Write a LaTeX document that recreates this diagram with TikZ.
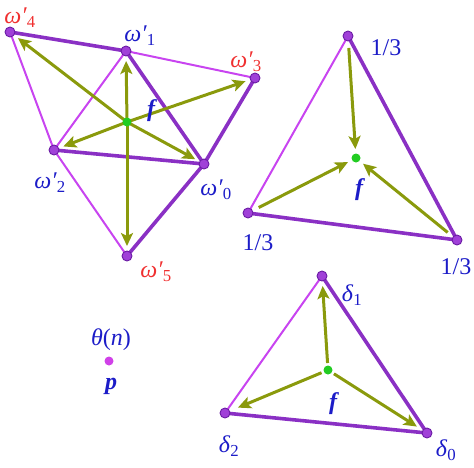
\documentclass[tikz,border=0pt]{standalone}
\usepackage{fontspec}
\setmainfont{Liberation Serif}
\usetikzlibrary{arrows.meta,backgrounds}
\definecolor{thickc}{HTML}{8A30C4}
\definecolor{thinc}{HTML}{C844F0}
\definecolor{vfill}{HTML}{A040D8}
\definecolor{vline}{HTML}{6A1CA4}
\definecolor{greenc}{HTML}{22CC22}
\definecolor{olivec}{HTML}{8A9A0C}
\definecolor{bluec}{HTML}{1C1CC8}
\definecolor{redc}{HTML}{F03030}
\definecolor{pinkc}{HTML}{D040E8}
\newcommand\wl[1]{\textit{ω\char"2032}\textsubscript{#1}}
\newcommand\dl[1]{\textit{δ}\textsubscript{#1}}
\begin{document}
\begin{tikzpicture}[x=1pt,y=-1pt,
  vtx/.style={circle,fill=vfill,draw=vline,line width=0.9pt,inner sep=0pt,minimum size=10pt},
  gdot/.style={circle,fill=greenc,inner sep=0pt,minimum size=9pt},
  pdot/.style={circle,fill=pinkc,inner sep=0pt,minimum size=9pt},
  thickedge/.style={line width=3.6pt,draw=thickc},
  thinedge/.style={line width=2pt,draw=thinc},
  arr/.style={draw=olivec,line width=3pt,-{Stealth[length=13pt,width=12pt,inset=3pt]}},
  lab/.style={font=\fontsize{24}{26}\selectfont,text=bluec,inner sep=0pt},
  rlab/.style={lab,text=redc}]
\useasboundingbox (0,0) rectangle (474,467);
% ---------- left figure ----------
\node[vtx] (w4) at (10,32) {};
\node[vtx] (w1) at (126,51) {};
\node[vtx] (w3) at (255,78) {};
\node[vtx] (w2) at (54,150) {};
\node[vtx] (w0) at (204,164) {};
\node[vtx] (w5) at (127,256) {};
\node[gdot] (f1) at (127,122) {};
\begin{scope}[on background layer]
  \draw[thinedge] (w1.center) -- (w3.center);
  \draw[thinedge] (w1.center) -- (w2.center);
  \draw[thinedge] (w4.center) -- (w2.center);
  \draw[thinedge] (w2.center) -- (w5.center);
  \draw[thickedge] (w4.center) -- (w1.center);
  \draw[thickedge] (w1.center) -- (w0.center);
  \draw[thickedge] (w2.center) -- (w0.center);
  \draw[thickedge] (w0.center) -- (w3.center);
  \draw[thickedge] (w0.center) -- (w5.center);
  \foreach \t in {w4,w1,w3,w2,w0,w5}
    \draw[arr,shorten >=10pt] (f1.center) -- (\t.center);
\end{scope}
\node[rlab] (lw4) at (20,18) {\wl{4}};
\node[lab] (lw1) at (140,36) {\wl{1}};
\node[rlab] (lw3) at (246,62) {\wl{3}};
\node[lab] (lw2) at (50,183) {\wl{2}};
\node[lab] (lw0) at (216,190) {\wl{0}};
\node[rlab] (lw5) at (156,272) {\wl{5}};
\node[lab] (lf1) at (152,111) {\textbf{\textit{f}}};
% ---------- top right triangle ----------
\node[vtx] (ta) at (348,36) {};
\node[vtx] (tb) at (248,213) {};
\node[vtx] (tc) at (457,240) {};
\node[gdot] (f2) at (356,158) {};
\begin{scope}[on background layer]
  \draw[thinedge] (ta.center) -- (tb.center);
  \draw[thickedge] (ta.center) -- (tc.center);
  \draw[thickedge] (tb.center) -- (tc.center);
  \foreach \s in {ta,tb,tc}
    \draw[arr,shorten <=12pt,shorten >=9pt] (\s.center) -- (f2.center);
\end{scope}
\node[lab] (lta) at (386,48) {1/3};
\node[lab] (ltb) at (258,243) {1/3};
\node[lab] (ltc) at (456,267) {1/3};
\node[lab] (lf2) at (360,190) {\textbf{\textit{f}}};
% ---------- bottom triangle ----------
\node[vtx] (d1) at (322,276) {};
\node[vtx] (d2) at (225,413) {};
\node[vtx] (d0) at (427,433) {};
\node[gdot] (f3) at (328,370) {};
\begin{scope}[on background layer]
  \draw[thinedge] (d1.center) -- (d2.center);
  \draw[thickedge] (d1.center) -- (d0.center);
  \draw[thickedge] (d2.center) -- (d0.center);
  \draw[arr,shorten <=7pt,shorten >=10pt] (f3.center) -- (d1.center);
  \draw[arr,shorten <=7pt,shorten >=14pt] (f3.center) -- (d2.center);
  \draw[arr,shorten <=7pt,shorten >=12pt] (f3.center) -- (d0.center);
\end{scope}
\node[lab] (ld1) at (352,295) {\dl{1}};
\node[lab] (ld2) at (229,446) {\dl{2}};
\node[lab] (ld0) at (446,450) {\dl{0}};
\node[lab] (lf3) at (334,404) {\textbf{\textit{f}}};
% ---------- isolated point ----------
\node[lab] (lth) at (111,340) {\textit{θ}(\textit{n})};
\node[pdot] (pp) at (109,361) {};
\node[lab] (lp) at (111,386) {\textbf{\textit{p}}};
\end{tikzpicture}
\end{document}
